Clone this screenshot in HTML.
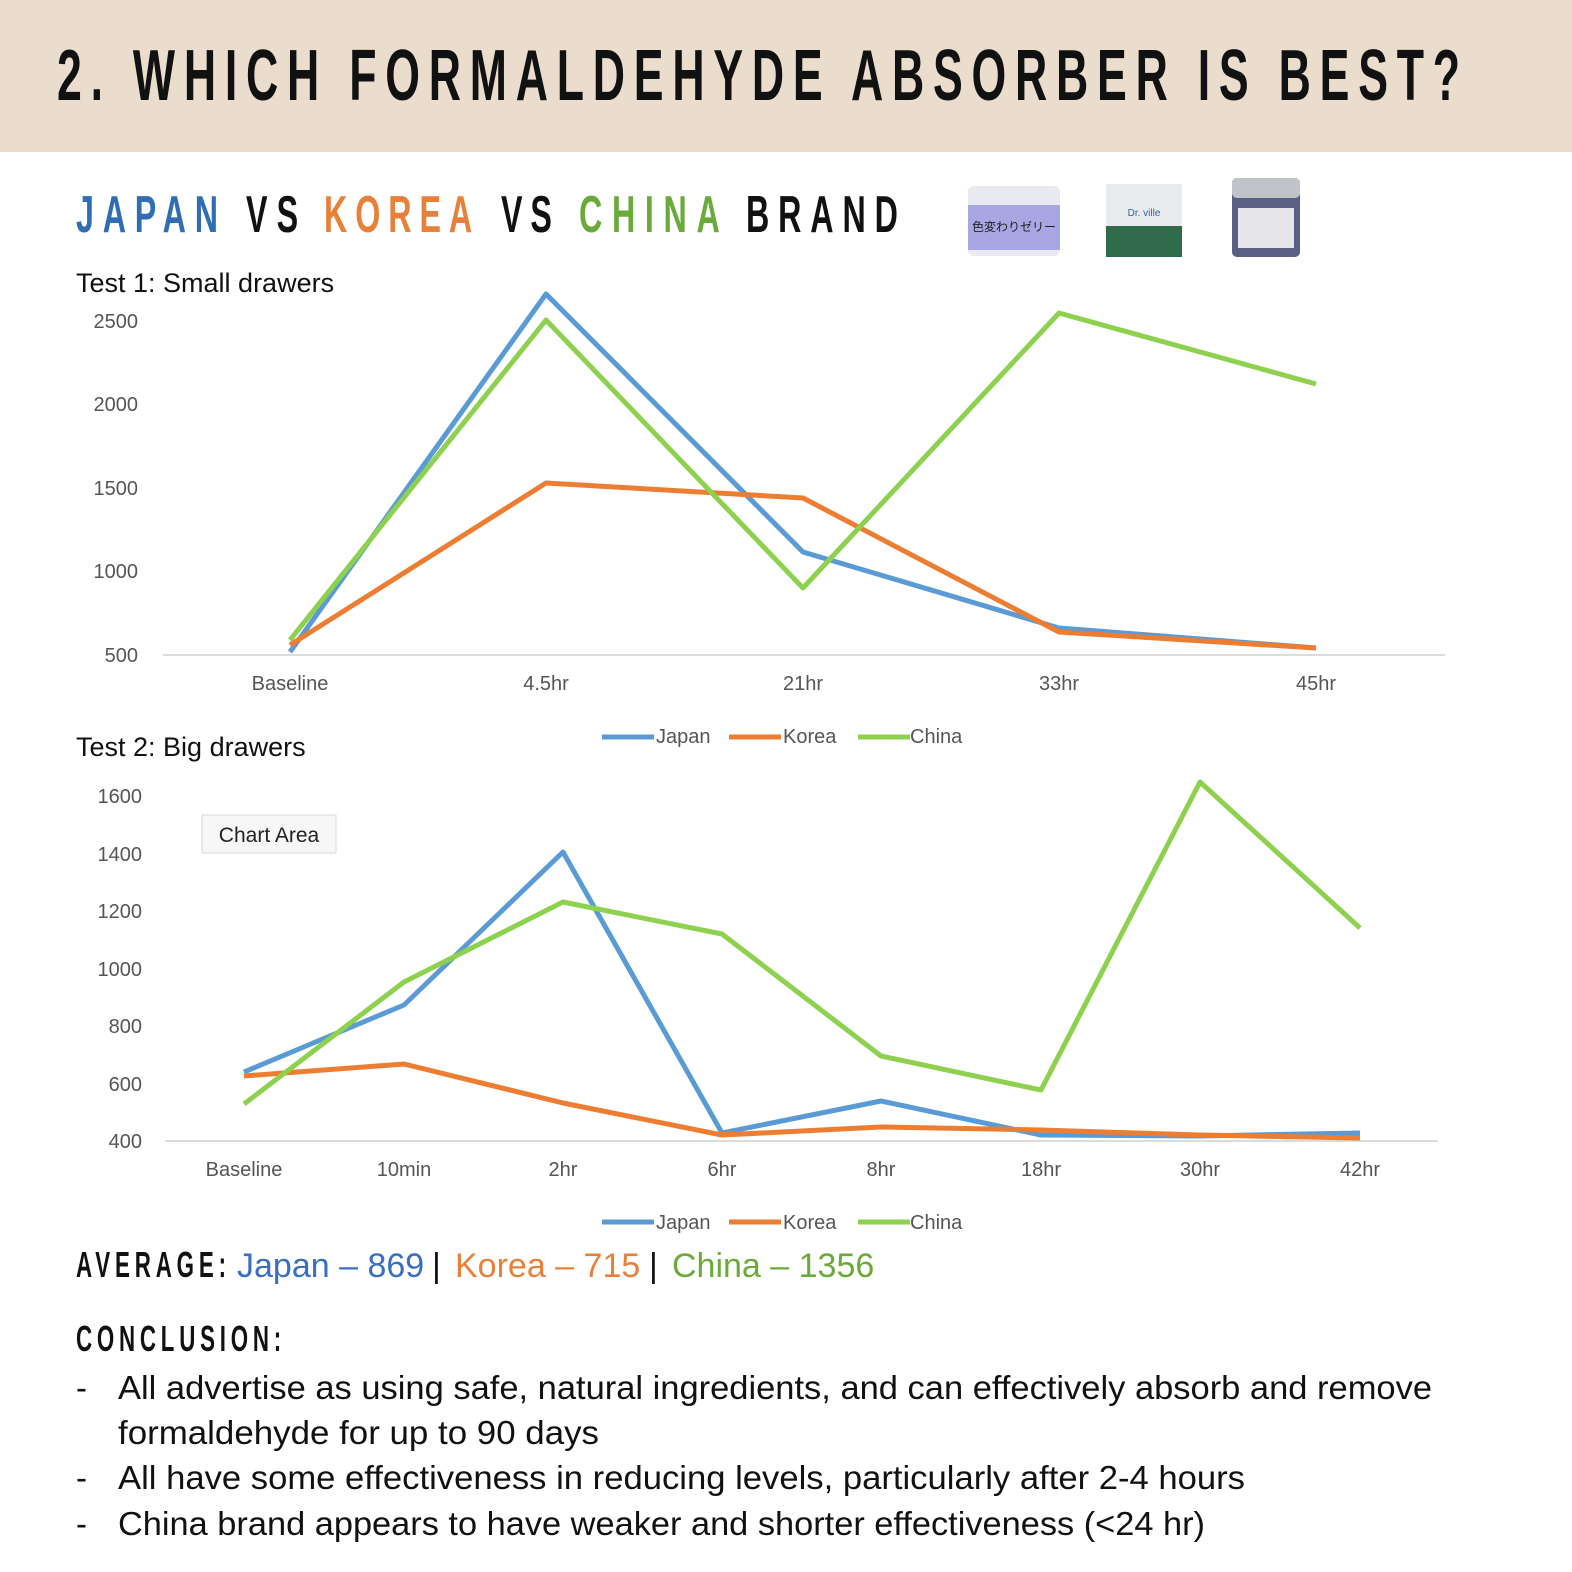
<!DOCTYPE html>
<html><head><meta charset="utf-8"><style>
html,body{margin:0;padding:0;background:#fff;}
svg{display:block;}
text{font-family:"Liberation Sans","Noto Sans CJK JP",sans-serif;}
</style></head><body>
<svg width="1572" height="1572" viewBox="0 0 1572 1572" xmlns="http://www.w3.org/2000/svg">
<rect x="0" y="0" width="1572" height="152" fill="#eaddcd"/>
<g transform="translate(57,100) scale(0.62,1)">
<text x="0" y="0" font-size="72" font-weight="bold" fill="#111" textLength="2263" lengthAdjust="spacing">2. WHICH FORMALDEHYDE ABSORBER IS BEST?</text>
</g>

<g font-size="52" font-weight="bold">
<g transform="translate(76,232) scale(0.62,1)"><text x="0" y="0" fill="#2f6db5" textLength="229" lengthAdjust="spacing">JAPAN</text></g>
<g transform="translate(246,232) scale(0.62,1)"><text x="0" y="0" fill="#111" textLength="84" lengthAdjust="spacing">VS</text></g>
<g transform="translate(324,232) scale(0.62,1)"><text x="0" y="0" fill="#e8803a" textLength="239" lengthAdjust="spacing">KOREA</text></g>
<g transform="translate(501,232) scale(0.62,1)"><text x="0" y="0" fill="#111" textLength="82" lengthAdjust="spacing">VS</text></g>
<g transform="translate(579,232) scale(0.62,1)"><text x="0" y="0" fill="#6aaa3a" textLength="227" lengthAdjust="spacing">CHINA</text></g>
<g transform="translate(746,232) scale(0.62,1)"><text x="0" y="0" fill="#111" textLength="245" lengthAdjust="spacing">BRAND</text></g>
</g>

<!-- product jars -->
<g>
<rect x="968" y="186" width="92" height="70" rx="6" fill="#e9e9f0"/>
<rect x="968" y="205" width="92" height="45" fill="#a9a6e4"/>
<text x="1014" y="231" font-size="12" text-anchor="middle" fill="#222">色変わりゼリー</text>
<rect x="1106" y="184" width="76" height="73" fill="#e8ecee"/>
<rect x="1106" y="226" width="76" height="31" fill="#2f6a4a"/>
<text x="1144" y="216" font-size="10" text-anchor="middle" fill="#3a5ba8">Dr. ville</text>
<rect x="1232" y="178" width="68" height="79" rx="5" fill="#5a5f86"/>
<rect x="1232" y="178" width="68" height="20" rx="5" fill="#c0c3c8"/>
<rect x="1238" y="208" width="56" height="40" fill="#e6e6ea"/>
</g>

<text x="76" y="292" font-size="27" fill="#111">Test 1: Small drawers</text>
<g font-size="20" fill="#555" text-anchor="end">
<text x="138" y="328">2500</text><text x="138" y="411">2000</text><text x="138" y="495">1500</text><text x="138" y="578">1000</text><text x="138" y="662">500</text>
</g>
<line x1="163" y1="655" x2="1445" y2="655" stroke="#d0d0d0" stroke-width="1.5"/>
<g font-size="20" fill="#555" text-anchor="middle">
<text x="290" y="690">Baseline</text><text x="546" y="690">4.5hr</text><text x="803" y="690">21hr</text><text x="1059" y="690">33hr</text><text x="1316" y="690">45hr</text>
</g>
<g fill="none" stroke-width="5" stroke-linejoin="round">
<polyline stroke="#5b9bd5" points="290,652 546,294 803,552 1059,628 1316,648"/>
<polyline stroke="#ed7d31" points="290,645 546,483 803,498 1059,632 1316,648"/>
<polyline stroke="#8ed14f" points="290,640 546,320 803,588 1059,313 1316,384"/>
</g>
<g font-size="20" fill="#555">
<line x1="602" y1="737" x2="654" y2="737" stroke="#5b9bd5" stroke-width="5"/><text x="656" y="743">Japan</text>
<line x1="729" y1="737" x2="781" y2="737" stroke="#ed7d31" stroke-width="5"/><text x="783" y="743">Korea</text>
<line x1="858" y1="737" x2="910" y2="737" stroke="#8ed14f" stroke-width="5"/><text x="910" y="743">China</text>
</g>

<text x="76" y="756" font-size="27" fill="#111">Test 2: Big drawers</text>
<g font-size="20" fill="#555" text-anchor="end">
<text x="142" y="803">1600</text><text x="142" y="861">1400</text><text x="142" y="918">1200</text><text x="142" y="976">1000</text><text x="142" y="1033">800</text><text x="142" y="1091">600</text><text x="142" y="1148">400</text>
</g>
<rect x="202" y="815" width="134" height="38" fill="#f7f7f7" stroke="#d8d8d8"/>
<text x="269" y="842" font-size="21" fill="#222" text-anchor="middle">Chart Area</text>
<line x1="165" y1="1141" x2="1438" y2="1141" stroke="#d0d0d0" stroke-width="1.5"/>
<g font-size="20" fill="#555" text-anchor="middle">
<text x="244" y="1176">Baseline</text><text x="404" y="1176">10min</text><text x="563" y="1176">2hr</text><text x="722" y="1176">6hr</text><text x="881" y="1176">8hr</text><text x="1041" y="1176">18hr</text><text x="1200" y="1176">30hr</text><text x="1360" y="1176">42hr</text>
</g>
<g fill="none" stroke-width="5" stroke-linejoin="round">
<polyline stroke="#5b9bd5" points="244,1072 404,1005 563,852 722,1133 881,1101 1041,1135 1200,1136 1360,1133"/>
<polyline stroke="#ed7d31" points="244,1076 404,1064 563,1103 722,1135 881,1127 1041,1130 1200,1135 1360,1138"/>
<polyline stroke="#8ed14f" points="244,1104 404,982 563,902 722,934 881,1056 1041,1090 1200,782 1360,928"/>
</g>
<g font-size="20" fill="#555">
<line x1="602" y1="1222" x2="654" y2="1222" stroke="#5b9bd5" stroke-width="5"/><text x="656" y="1229">Japan</text>
<line x1="729" y1="1222" x2="781" y2="1222" stroke="#ed7d31" stroke-width="5"/><text x="783" y="1229">Korea</text>
<line x1="858" y1="1222" x2="910" y2="1222" stroke="#8ed14f" stroke-width="5"/><text x="910" y="1229">China</text>
</g>

<g transform="translate(76,1277) scale(0.62,1)"><text x="0" y="0" font-size="36" font-weight="bold" fill="#111" textLength="242" lengthAdjust="spacing">AVERAGE:</text></g>
<text y="1277" font-size="34"><tspan x="237" fill="#3a6fbf">Japan – 869</tspan><tspan x="432" fill="#111">|</tspan><tspan x="455" fill="#e8803a">Korea – 715</tspan><tspan x="649" fill="#111">|</tspan><tspan x="672" fill="#6aaa3a">China – 1356</tspan></text>
<g transform="translate(76,1351) scale(0.62,1)"><text x="0" y="0" font-size="36" font-weight="bold" fill="#111" textLength="331" lengthAdjust="spacing">CONCLUSION:</text></g>
<g font-size="33" fill="#111">
<text x="76" y="1399">-</text><text x="118" y="1399" textLength="1314" lengthAdjust="spacingAndGlyphs">All advertise as using safe, natural ingredients, and can effectively absorb and remove</text>
<text x="118" y="1444" textLength="481" lengthAdjust="spacingAndGlyphs">formaldehyde for up to 90 days</text>
<text x="76" y="1489">-</text><text x="118" y="1489" textLength="1127" lengthAdjust="spacingAndGlyphs">All have some effectiveness in reducing levels, particularly after 2-4 hours</text>
<text x="76" y="1535">-</text><text x="118" y="1535" textLength="1087" lengthAdjust="spacingAndGlyphs">China brand appears to have weaker and shorter effectiveness (&lt;24 hr)</text>
</g>
</svg>
</body></html>
